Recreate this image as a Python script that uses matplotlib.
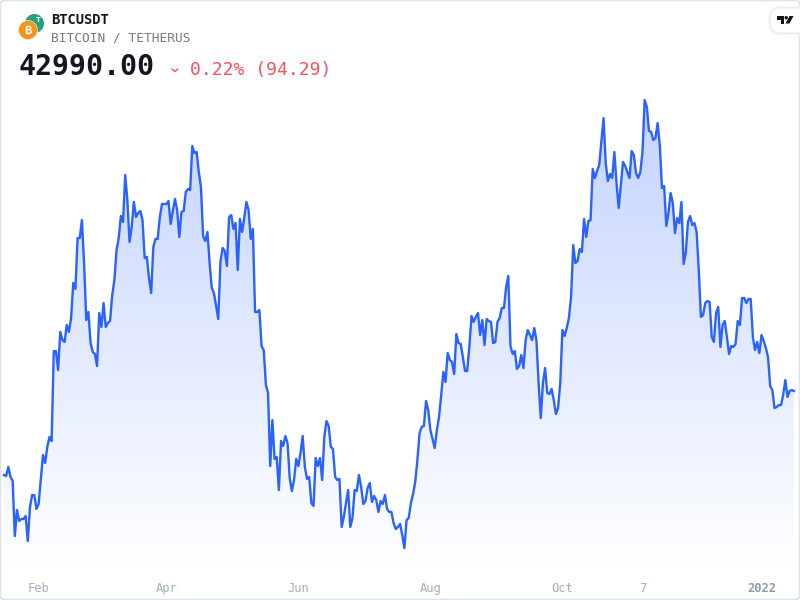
#!/usr/bin/env python3
"""
BTCUSDT area chart card
"""
import matplotlib
matplotlib.use('Agg')
import matplotlib.pyplot as plt
from matplotlib.patches import Circle, FancyBboxPatch, Polygon
import matplotlib.dates as mdates
import numpy as np
import pandas as pd

# Daily closes
prices = [
    35930, 35850, 36610, 35770, 35430, 30810, 32990, 32070, 32240, 32240, 32490, 30390, 33250, 34250, 34250,
    33080, 33500, 35600, 37610, 36940, 38290, 39130, 38790, 46350, 46350, 44750, 47950, 47270, 47110, 48530,
    47950, 49120, 52060, 51560, 55840, 55840, 57350, 53740, 48950, 49630, 47020, 46270, 46100, 45090, 49540,
    48370, 50380, 48370, 48700, 48870, 51050, 52310, 54830, 55840, 57690, 57190, 61130, 59030, 55510, 56770,
    58870, 57610, 57940, 58110, 57350, 54160, 54250, 52480, 51220, 55090, 55760, 55760, 57610, 58700, 58700,
    58700, 58950, 57020, 58110, 59120, 58190, 55930, 58030, 58110, 59710, 59960, 59870, 63570, 62980, 63070,
    61390, 60130, 56010, 55590, 56350, 53740, 51640, 51220, 50130, 49040, 53830, 55000, 54750, 53490, 57610,
    57770, 56600, 57100, 53150, 57440, 56350, 57520, 58870, 58190, 55760, 56600, 49630, 49630, 49790, 46770,
    46430, 43490, 42820, 36690, 40550, 37280, 37450, 34670, 38790, 38370, 39210, 38620, 35680, 34590, 35510,
    37280, 36690, 37780, 39210, 36610, 35600, 35770, 33580, 33330, 37360, 36690, 37360, 35510, 39130, 40470,
    40050, 38290, 38120, 35770, 35510, 35600, 31570, 32410, 33580, 34670, 31570, 32320, 34670, 34590, 35930,
    34930, 33500, 33750, 34840, 35260, 33670, 34170, 33830, 32830, 33750, 33500, 34250, 33080, 32830, 32830,
    31900, 31400, 31570, 31820, 30890, 29800, 32150, 32320, 33580, 34340, 35350, 37190, 39460, 39970, 40050,
    42150, 41390, 39710, 38960, 38200, 39710, 40810, 42650, 44590, 43750, 46180, 45590, 45430, 44420, 47780,
    47020, 46940, 45850, 44670, 44670, 46690, 49290, 48790, 49210, 49540, 47690, 48950, 46850, 49040, 48870,
    48790, 47020, 47110, 48790, 49120, 49960, 49960, 51730, 52650, 46770, 46100, 46350, 44840, 45090, 46010,
    44920, 47270, 48110, 47690, 47270, 48280, 47270, 43660, 40720, 43660, 44920, 42820, 42740, 43160, 42230,
    41060, 41560, 43660, 48110, 47610, 48280, 49120, 50890, 55250, 53740, 53910, 54920, 54670, 57440, 55930,
    57270, 57350, 61640, 60880, 61470, 61970, 63990, 65920, 62140, 60630, 61220, 60880, 63070, 60460, 58360,
    60290, 62230, 61890, 61390, 60880, 63150, 62810, 61300, 60880, 61390, 63070, 67430, 66850, 64830, 64750,
    64070, 64240, 65500, 63650, 60040, 60210, 56850, 57940, 59620, 58780, 56260, 57520, 57100, 58870, 53660,
    54580, 57190, 57690, 56930, 57100, 56350, 53150, 49210, 49370, 50380, 50550, 50470, 47530, 47110, 49540,
    50050, 46690, 48530, 48870, 47530, 46100, 46770, 46690, 46940, 48870, 48530, 50800, 50800, 50380, 50720,
    50720, 47530, 46430, 47110, 46180, 47690, 47190, 46600, 45850, 43410, 43070, 41560, 41650, 41810, 41810,
    42650, 43910, 42490, 42990, 43070, 42990,
]
tick_dates = ['2021-02-01', '2021-04-01', '2021-06-01', '2021-08-01', '2021-10-01', '2021-11-07', '2022-01-01']
tick_labels = ['Feb', 'Apr', 'Jun', 'Aug', 'Oct', '7', '2022']

symbol = 'BTCUSDT'
pair_name = 'BITCOIN / TETHERUS'
last_price = '42990.00'
change_text = '0.22% (94.29)'

LINE = '#2962ff'
MONO = 'DejaVu Sans Mono'

dates = pd.date_range('2021-01-16', periods=len(prices))
x = mdates.date2num(dates)

fig = plt.figure(figsize=(8, 6), dpi=100, facecolor='white')
ax = fig.add_axes([0, 0, 1, 1])

# scale: first point at px 4, last at px 794, 84 USD per pixel, last close at px 391
px_per_day = (794 - 4) / (x[-1] - x[0])
usd_per_px = 84
ax.axis('off')

# area gradient, clipped to the shape under the line
base = 42990 - 179 * usd_per_px
top = 42990 + 291 * usd_per_px
area = ax.fill_between(x, prices, base, color='none', linewidth=0)
grad = np.zeros((256, 1, 4))
grad[:, 0, :3] = matplotlib.colors.to_rgb(LINE)
grad[:, 0, 3] = np.linspace(0.28, 0.0, 256)
im = ax.imshow(grad, extent=(x[0], x[-1], base, top), aspect='auto', zorder=1, interpolation='bilinear')
im.set_clip_path(area.get_paths()[0], transform=ax.transData)
ax.set_xlim(x[0] - 4 / px_per_day, x[0] + 796 / px_per_day)
ax.set_ylim(42990 - 209 * usd_per_px, 42990 + 391 * usd_per_px)

ax.plot(x, prices, color=LINE, linewidth=1.7, zorder=2, solid_joinstyle='round')

# time labels
for d, label in zip(tick_dates, tick_labels):
    strong = label == '2022'
    ax.text(mdates.date2num(pd.Timestamp(d)), 0.0195, label, transform=ax.get_xaxis_transform(),
            ha='center', va='center', family=MONO, fontsize=8.7,
            color='#8c9cab' if strong else '#a3b1be', fontweight='bold' if strong else 'normal')

# header and card decorations, in pixel coordinates
ov = fig.add_axes([0, 0, 1, 1], facecolor='none')
ov.axis('off')

ov.add_patch(FancyBboxPatch((0.5, 0.5), 799, 599, boxstyle='round,pad=0,rounding_size=4',
                            fill=False, edgecolor='#e0e3eb', linewidth=1.2))

# coin icons
ov.add_patch(Circle((34.5, 23.5), 8.8, color='#26a17b', zorder=3))
ov.text(38, 20.5, 'T', color='white', fontsize=5, fontweight='bold', ha='center', va='center', zorder=3)
ov.add_patch(Circle((28, 30), 9.5, color='#f7931a', ec='white', linewidth=0.4, zorder=4))
ov.text(28, 30.5, '₿', color='white', fontsize=8, fontweight='bold', ha='center', va='center', zorder=5,
        family=['Inter', 'Lato', 'Noto Sans', 'Open Sans', 'Roboto', 'DejaVu Sans'])

ov.text(51, 19.5, symbol, family=MONO, fontsize=9.9, fontweight='bold', color='#131722', va='center')
ov.text(51, 38, pair_name, family=MONO, fontsize=9.25, color='#787b86', va='center')
ov.text(19, 67, last_price, family=MONO, fontsize=20.35, fontweight='bold', color='#131722', va='center')
ov.text(190, 70, change_text, family=MONO, fontsize=13, color='#f7525f', va='center')
ov.plot([172, 175, 178], [69, 71.5, 69], color='#f7525f', linewidth=1.0, solid_capstyle='round')

# logo pill at the top right
for grow, shade in [(2.0, '#f6f7f9'), (1.0, '#eff0f3')]:
    ov.add_patch(FancyBboxPatch((770 - grow, 8 - grow), 50 + 2 * grow, 25 + 2 * grow,
                                boxstyle='round,pad=0,rounding_size=12', fc=shade, ec='none', zorder=5))
ov.add_patch(FancyBboxPatch((770, 8), 50, 25, boxstyle='round,pad=0,rounding_size=12',
                            fc='white', ec='#eceef2', linewidth=0.8, zorder=6))
ov.add_patch(Polygon([(777, 16), (784, 16), (784, 23.5), (780.5, 23.5), (780.5, 19.5), (777, 19.5)],
                     closed=True, fc='#131722', ec='none', zorder=7))
ov.add_patch(Circle((786.2, 17.7), 1.7, fc='#131722', ec='none', zorder=7))
ov.add_patch(Polygon([(789.5, 16), (793.5, 16), (789.5, 23.5), (785.5, 23.5)],
                     closed=True, fc='#131722', ec='none', zorder=7))
ov.set_xlim(0, 800)
ov.set_ylim(600, 0)

plt.savefig('out.png', dpi=100)
